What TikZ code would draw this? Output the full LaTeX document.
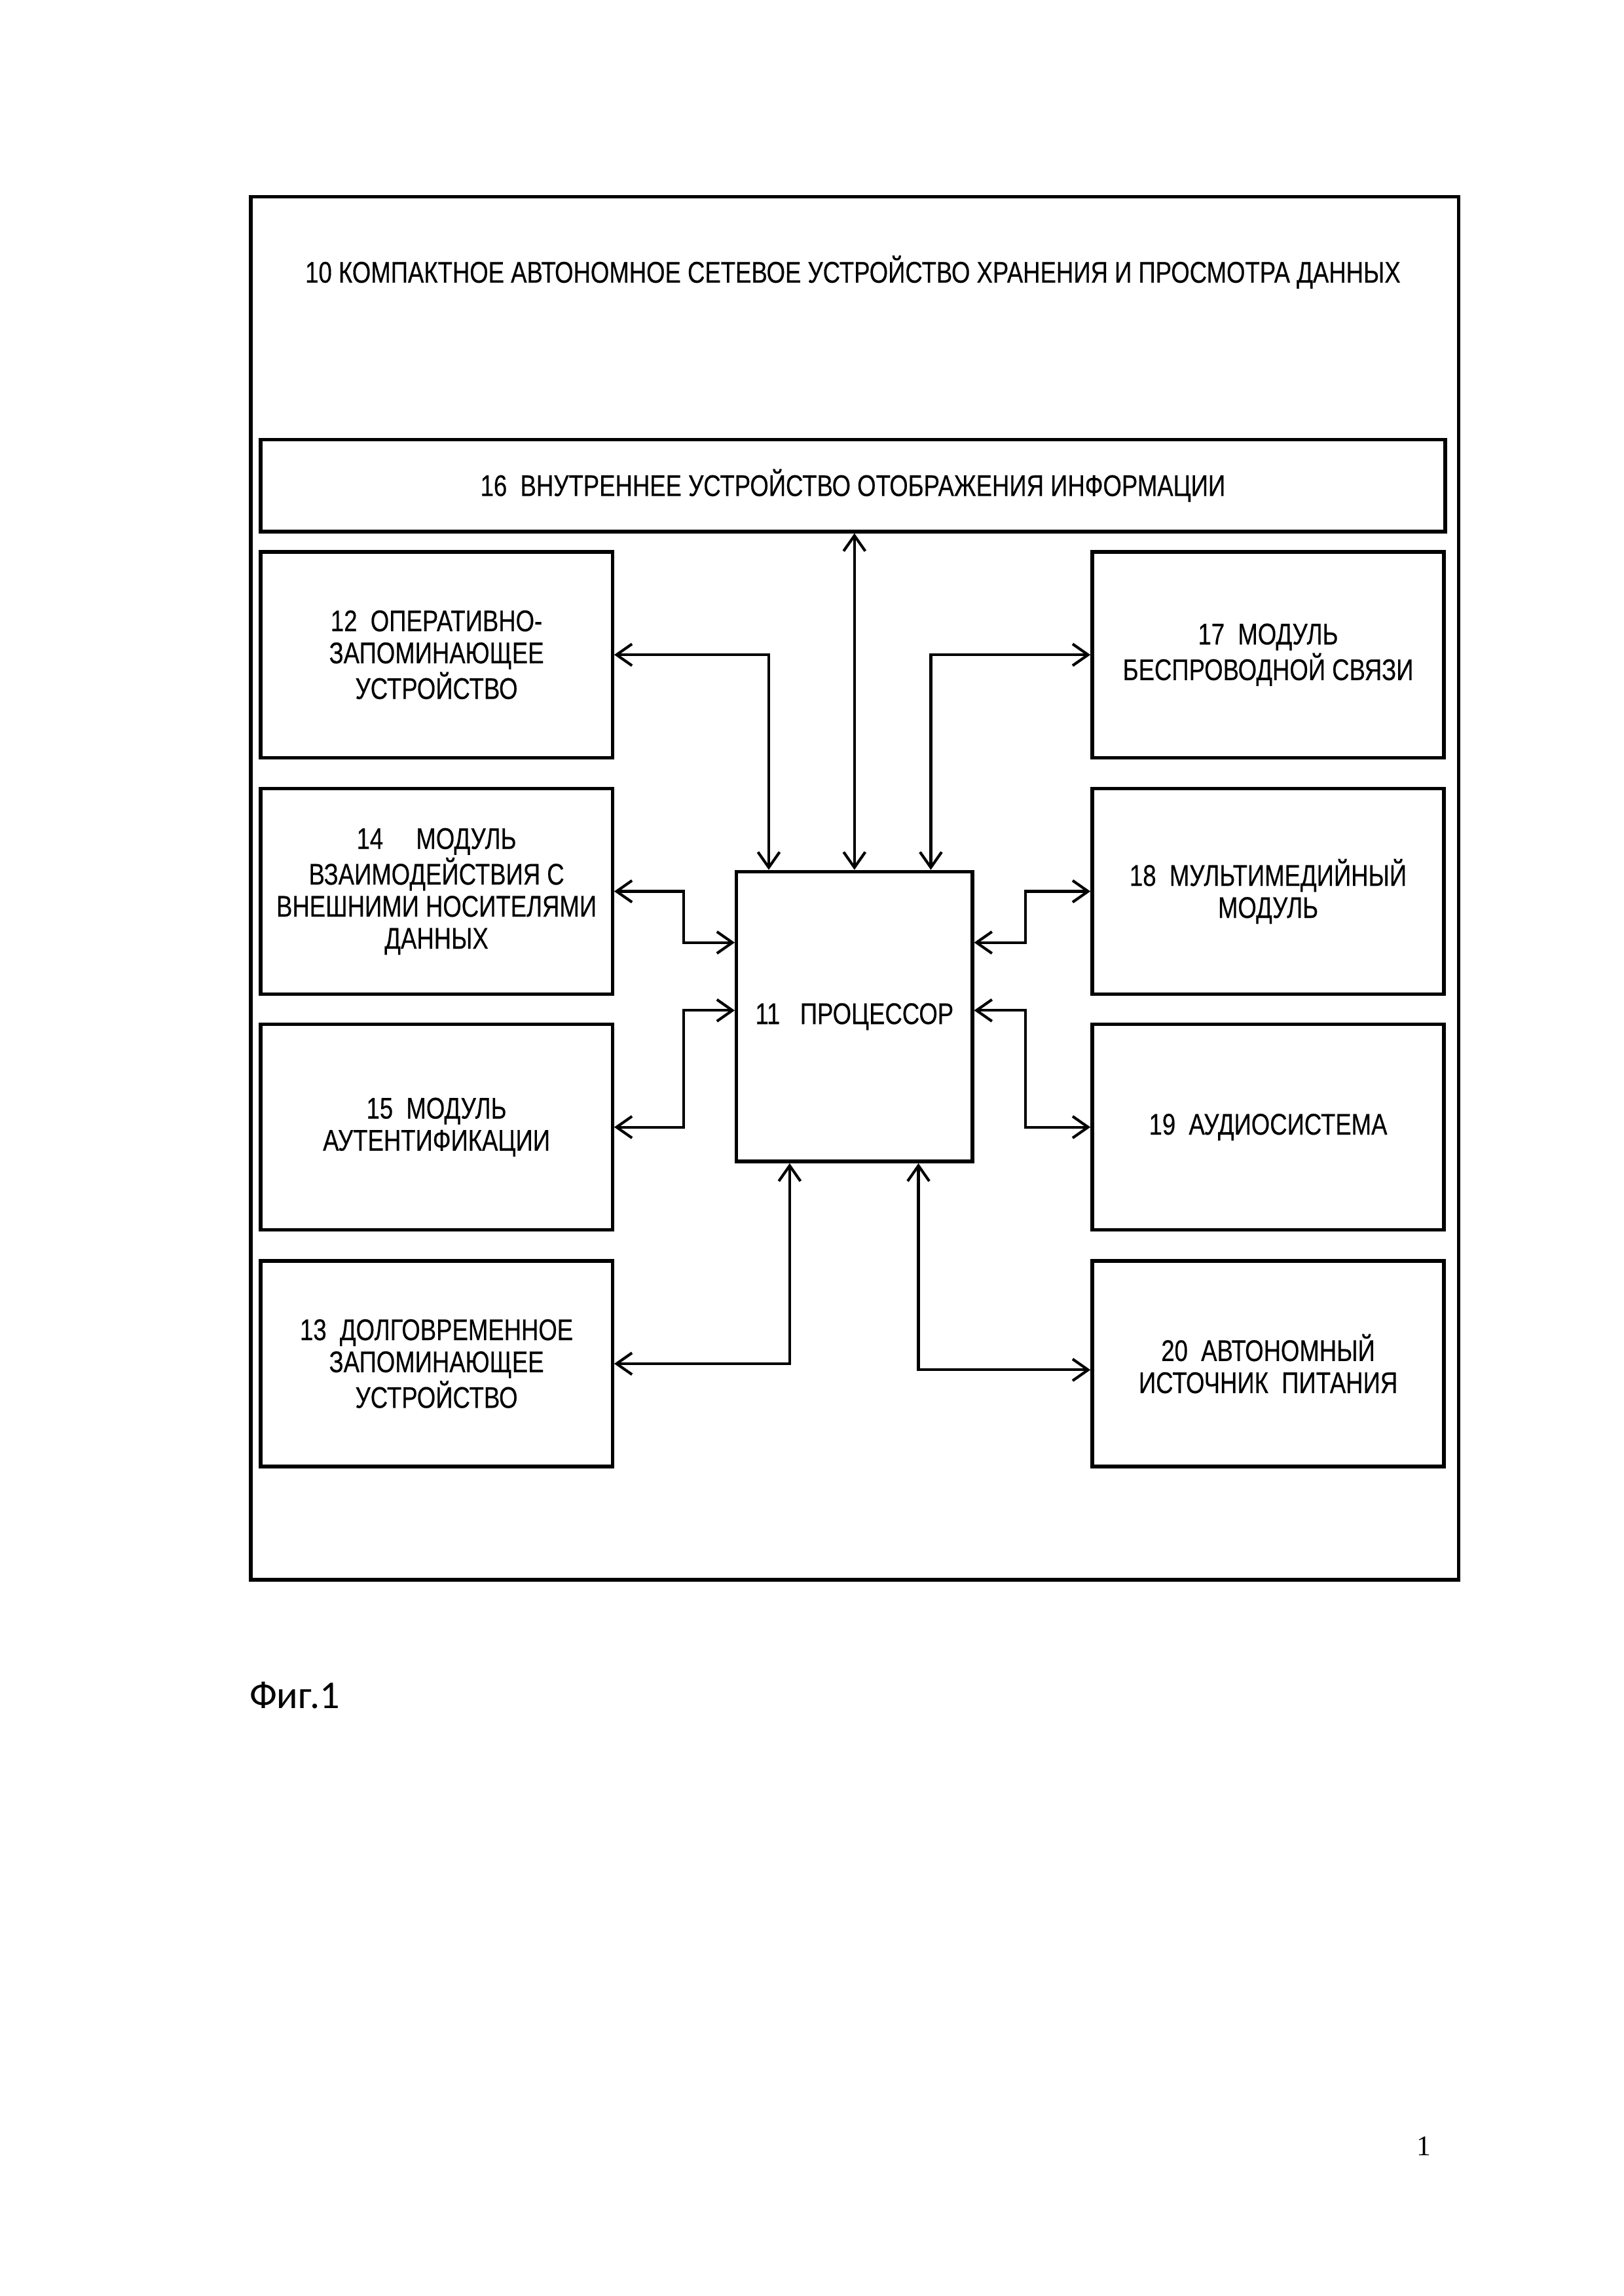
\documentclass[tikz,border=0pt]{standalone}
\usepackage{fontspec}
\newfontfamily\narrowsans[FakeStretch=0.8,FakeBold=0.4]{Liberation Sans}
\newfontfamily\captionfont{Carlito}
\newfontfamily\pagenumfont{Liberation Serif}
\usetikzlibrary{arrows.meta}

\begin{document}
\begin{tikzpicture}[>={Straight Barb[length=2mm,width=2.8mm]},
		font=\narrowsans\fontsize{11}{11.8}\selectfont,
		blk/.style={draw, line width=1.3pt, minimum width=4.55cm, minimum height=2.66cm, align=center, inner sep=1pt},
		link/.style={<->, line width=1pt}]
		\useasboundingbox (0,0) rectangle (21,-29.7);
		% outer frame of the device (10)
		\node[draw, line width=1.4pt, minimum width=15.62cm, minimum height=17.89cm, anchor=north west] (dev) at (3.22,-2.52) {};
		\node (title) at (11.03,-3.52) {10 КОМПАКТНОЕ АВТОНОМНОЕ СЕТЕВОЕ УСТРОЙСТВО ХРАНЕНИЯ И ПРОСМОТРА ДАННЫХ};
		\node[draw, line width=1.3pt, minimum width=15.32cm, minimum height=1.19cm] (disp) at (11.03,-6.28) {16\ \ ВНУТРЕННЕЕ УСТРОЙСТВО ОТОБРАЖЕНИЯ ИНФОРМАЦИИ};
		% processor in the middle
		\node[draw, line width=1.3pt, minimum width=3.05cm, minimum height=3.75cm] (cpu) at (11.05,-13.15) {11\ \ \ ПРОЦЕССОР};
		% left column
		\node[blk] (ram)  at (5.645,-8.47)  {12\ \ ОПЕРАТИВНО-\\ЗАПОМИНАЮЩЕЕ\\УСТРОЙСТВО};
		\node[blk] (ext)  at (5.645,-11.53) {14\hspace{1.1em}МОДУЛЬ\\ВЗАИМОДЕЙСТВИЯ С\\ВНЕШНИМИ НОСИТЕЛЯМИ\\ДАННЫХ};
		\node[blk] (auth) at (5.645,-14.58) {15\ \ МОДУЛЬ\\АУТЕНТИФИКАЦИИ};
		\node[blk] (hdd)  at (5.645,-17.64) {13\ \ ДОЛГОВРЕМЕННОЕ\\ЗАПОМИНАЮЩЕЕ\\УСТРОЙСТВО};
		% right column
		\node[blk] (wifi)  at (16.40,-8.47)  {17\ \ МОДУЛЬ\\БЕСПРОВОДНОЙ СВЯЗИ};
		\node[blk] (media) at (16.40,-11.53) {18\ \ МУЛЬТИМЕДИЙНЫЙ\\МОДУЛЬ};
		\node[blk] (audio) at (16.40,-14.58) {19\ \ АУДИОСИСТЕМА};
		\node[blk] (power) at (16.40,-17.64) {20\ \ АВТОНОМНЫЙ\\ИСТОЧНИК\ \ ПИТАНИЯ};
		% links to the processor
		\draw[link] (disp.south -| cpu.north) -- (cpu.north);
		\draw[link] (ram.east) -| ([xshift=4.4mm]cpu.north west);
		\draw[link] (wifi.west) -| ([xshift=-5.6mm]cpu.north east);
		\draw[link] (ext.east) -- ++(0.9,0) |- ([yshift=-9.4mm]cpu.north west);
		\draw[link] (auth.east) -- ++(0.9,0) |- ([yshift=0.8mm]cpu.west);
		\draw[link] (media.west) -- ++(-0.84,0) |- ([yshift=-9.4mm]cpu.north east);
		\draw[link] (audio.west) -- ++(-0.84,0) |- ([yshift=0.8mm]cpu.east);
		\draw[link] (hdd.east) -| ([xshift=7.1mm]cpu.south west);
		\draw[link] ([yshift=-0.8mm]power.west) -| ([xshift=-7.2mm]cpu.south east);
		% caption and page number
		\node[font=\captionfont\fontsize{14.5}{16}\selectfont, anchor=west, inner sep=0pt] (fig) at (3.22,-21.93) {Фиг.1};
		\node[font=\pagenumfont\fontsize{10.5}{12}\selectfont] (pg) at (18.41,-27.76) {1};
	\end{tikzpicture}
\end{document}
